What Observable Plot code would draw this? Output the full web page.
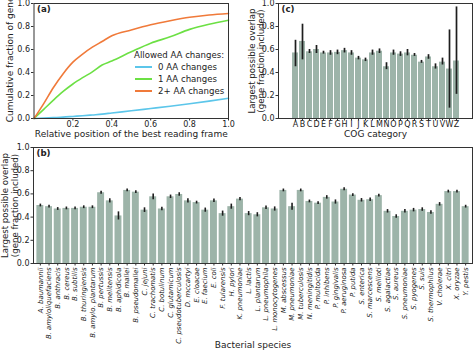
<!DOCTYPE html>
<html>
<head>
<meta charset="utf-8">
<script src="https://cdn.jsdelivr.net/npm/d3@7"></script>
<script src="https://cdn.jsdelivr.net/npm/@observablehq/plot@0.6"></script>
<style>
  html, body { margin: 0; padding: 0; background: #fff; }
  #wrap { position: relative; width: 474px; height: 351px; overflow: hidden; font-family: "DejaVu Sans", sans-serif; }
  #wrap > svg, #wrap > div.p { position: absolute; }
  .legend { position: absolute; font-size: 8.6px; color: #222; line-height: 1; }
  .legend .row { display: flex; align-items: center; height: 12px; }
  .legend .sw { width: 17px; height: 1.6px; margin-right: 6px; margin-left: 1px; }
</style>
</head>
<body>
<div id="wrap"></div>
<script>
// ---------- Panel (a) data ----------
const posX = [0, 0.05, 0.1, 0.15, 0.2, 0.25, 0.3, 0.35, 0.4, 0.5, 0.6, 0.7, 0.8, 0.9, 1.0];
const aa0 = [0, 0.004, 0.008, 0.012, 0.018, 0.024, 0.031, 0.038, 0.048, 0.067, 0.087, 0.107, 0.128, 0.151, 0.176];
const aa1 = [0, 0.08, 0.16, 0.235, 0.30, 0.355, 0.405, 0.465, 0.50, 0.58, 0.655, 0.71, 0.775, 0.82, 0.855];
const aa2 = [0, 0.13, 0.27, 0.39, 0.49, 0.56, 0.62, 0.67, 0.72, 0.77, 0.815, 0.85, 0.88, 0.90, 0.913];
const seriesNames = ["0 AA changes", "1 AA changes", "2+ AA changes"];
const seriesColors = ["#5cc6ea", "#6ce044", "#f07a3a"];

// ---------- Panel (c) data ----------
const cogCats = ["A","B","C","D","E","F","G","H","I","J","K","L","M","N","O","P","Q","R","S","T","U","V","W","Z"];
const cogMean = [0.57,0.67,0.58,0.60,0.57,0.57,0.575,0.59,0.57,0.525,0.51,0.57,0.585,0.45,0.57,0.56,0.57,0.55,0.49,0.535,0.45,0.49,0.43,0.50];
const cogLo   = [0.45,0.51,0.565,0.565,0.56,0.55,0.555,0.57,0.55,0.51,0.495,0.55,0.565,0.425,0.55,0.54,0.545,0.54,0.48,0.515,0.43,0.465,0.09,0.21];
const cogHi   = [0.68,0.82,0.60,0.635,0.585,0.59,0.595,0.61,0.59,0.54,0.525,0.595,0.605,0.485,0.595,0.58,0.60,0.565,0.505,0.555,0.475,0.525,0.77,0.97];

// ---------- Panel (b) data ----------
const species = ["A. baumannii","B. amyloliquefaciens","B. anthracis","B. cereus","B. subtilis","B. thuringiensis","B. amylo. plantarum","B. pertussis","B. melitensis","B. aphidicola","B. mallei","B. pseudomallei","C. jejuni","C. trachomatis","C. botulinum","C. glutamicum","C. pseudotuberculosis","D. mccartyi","E. cloacae","E. faecium","E. coli","F. tularensis","H. pylori","K. pneumoniae","L. lactis","L. plantarum","L. pneumophila","L. monocytogenes","M. abscessus","M. pneumoniae","M. tuberculosis","N. meningitidis","P. multocida","P. inhibens","P. gingivalis","P. aeruginosa","P. putida","S. enterica","S. marcescens","S. meliloti","S. agalactiae","S. aureus","S. pneumoniae","S. pyogenes","S. suis","S. thermophilus","V. cholerae","X. citri","X. oryzae","Y. pestis"];
const spMean = [0.50,0.49,0.47,0.475,0.475,0.485,0.485,0.61,0.54,0.41,0.63,0.615,0.46,0.575,0.47,0.575,0.595,0.54,0.525,0.46,0.54,0.43,0.49,0.555,0.43,0.42,0.48,0.47,0.63,0.49,0.63,0.535,0.52,0.57,0.53,0.64,0.59,0.545,0.55,0.585,0.45,0.405,0.45,0.46,0.465,0.44,0.51,0.62,0.62,0.49];
const spErr  = [0.012,0.012,0.012,0.012,0.012,0.012,0.012,0.012,0.018,0.035,0.012,0.012,0.02,0.025,0.015,0.015,0.015,0.018,0.012,0.018,0.015,0.022,0.022,0.015,0.018,0.018,0.015,0.018,0.012,0.03,0.012,0.012,0.012,0.015,0.018,0.012,0.012,0.015,0.015,0.012,0.015,0.015,0.015,0.015,0.015,0.015,0.015,0.012,0.012,0.012];

const yTicks = [0, 0.2, 0.4, 0.6, 0.8, 1.0];
const fmt = d3.format(".1f");
const barColor = "#9db4a9";
const errColor = "#1e1e1e";
const axisColor = "#333";
const font = "DejaVu Sans";

const wrap = document.getElementById("wrap");

// ---------- Panel (a) ----------
const curves = [];
[aa0, aa1, aa2].forEach((arr, s) => arr.forEach((v, i) => curves.push({x: posX[i], y: v, s: seriesNames[s]})));

const pA = Plot.plot({
  width: 240, height: 140,
  marginLeft: 33.5, marginRight: 12, marginTop: 3, marginBottom: 22,
  style: {fontFamily: font, fontSize: "8px", color: "#222", background: "transparent", overflow: "visible"},
  x: {domain: [0, 1]},
  y: {domain: [0, 1]},
  color: {domain: seriesNames, range: seriesColors},
  marks: [
    Plot.line(curves, {x: "x", y: "y", z: "s", stroke: "s", strokeWidth: 1.6, curve: "monotone-x"}),
    Plot.frame({stroke: axisColor, strokeWidth: 1}),
    Plot.axisX({ticks: [0.2, 0.4, 0.6, 0.8, 1.0], tickFormat: fmt, tickSize: 2.5, tickPadding: 0.5, label: null, stroke: axisColor}),
    Plot.axisY({ticks: yTicks, tickFormat: fmt, tickSize: 2.5, tickPadding: 1.5, label: null, stroke: axisColor}),
    Plot.text(["Relative position of the best reading frame"], {frameAnchor: "bottom", dy: 16, lineAnchor: "middle", textAnchor: "middle", fontSize: 9, text: d => d}),
    Plot.text(["Cumulative fraction of genes"], {frameAnchor: "left", dx: -24, dy: -4, rotate: -90, lineAnchor: "middle", textAnchor: "middle", fontSize: 9, text: d => d}),
    Plot.text(["(a)"], {frameAnchor: "top-left", dx: 3, dy: 6, lineAnchor: "middle", textAnchor: "start", fontWeight: "bold", fontSize: 8.6, text: d => d})
  ]
});
pA.style.left = "0px"; pA.style.top = "0px";
wrap.appendChild(pA);

// legend for (a)
const leg = document.createElement("div");
leg.className = "legend";
leg.style.left = "134px"; leg.style.top = "49px";
let html = `<div class="row" style="margin-bottom:0px">Allowed AA changes:</div>`;
seriesNames.forEach((n, i) => {
  html += `<div class="row"><span class="sw" style="background:${seriesColors[i]}"></span>${n}</div>`;
});
leg.innerHTML = html;
wrap.appendChild(leg);

// ---------- Panel (c) ----------
const cogData = cogCats.map((c, i) => ({c, m: cogMean[i], lo: cogLo[i], hi: cogHi[i]}));
const pC = Plot.plot({
  width: 239, height: 140,
  marginLeft: 43, marginRight: 2, marginTop: 3, marginBottom: 22,
  style: {fontFamily: font, fontSize: "8px", color: "#222", background: "transparent", overflow: "visible"},
  x: {domain: cogCats, paddingInner: 0.17, paddingOuter: 0.33},
  y: {domain: [0, 1]},
  marks: [
    Plot.barY(cogData, {x: "c", y: "m", fill: barColor}),
    Plot.ruleX(cogData, {x: "c", y1: "lo", y2: "hi", stroke: errColor, strokeWidth: 1.7}),
    Plot.frame({stroke: axisColor, strokeWidth: 1}),
    Plot.axisX({tickSize: 2.5, tickPadding: 0.5, label: null, stroke: axisColor}),
    Plot.axisY({ticks: yTicks, tickFormat: fmt, tickSize: 2.5, tickPadding: 1.5, label: null, stroke: axisColor}),
    Plot.text(["COG category"], {frameAnchor: "bottom", dy: 16, lineAnchor: "middle", textAnchor: "middle", fontSize: 9, text: d => d}),
    Plot.text(["Largest possible overlap\n(gene fraction included)"], {frameAnchor: "left", dx: -22, rotate: -90, lineAnchor: "middle", textAnchor: "middle", lineHeight: 1.12, fontSize: 8.6, text: d => d}),
    Plot.text(["(c)"], {frameAnchor: "top-left", dx: 3, dy: 6, lineAnchor: "middle", textAnchor: "start", fontWeight: "bold", fontSize: 8.6, text: d => d})
  ]
});
pC.style.left = "235px"; pC.style.top = "0px";
wrap.appendChild(pC);

// ---------- Panel (b) ----------
const spData = species.map((s, i) => ({s, m: spMean[i], lo: spMean[i] - spErr[i], hi: spMean[i] + spErr[i]}));
const pB = Plot.plot({
  width: 474, height: 211,
  marginLeft: 33, marginRight: 2, marginTop: 7, marginBottom: 88,
  style: {fontFamily: font, fontSize: "8px", color: "#222", background: "transparent", overflow: "visible"},
  x: {domain: species, paddingInner: 0.2, paddingOuter: 0.39},
  y: {domain: [0, 1]},
  marks: [
    Plot.barY(spData, {x: "s", y: "m", fill: barColor}),
    Plot.ruleX(spData, {x: "s", y1: "lo", y2: "hi", stroke: errColor, strokeWidth: 1.6}),
    Plot.frame({stroke: axisColor, strokeWidth: 1}),
    Plot.axisX({tickSize: 2.5, tickPadding: 1.5, tickRotate: -90, fontSize: 6.9, fontStyle: "italic", label: null, stroke: axisColor}),
    Plot.axisY({ticks: yTicks, tickFormat: fmt, tickSize: 2.5, tickPadding: 1.5, label: null, stroke: axisColor}),
    Plot.text(["Bacterial species"], {frameAnchor: "bottom", dy: 82, lineAnchor: "middle", textAnchor: "middle", fontSize: 9, text: d => d}),
    Plot.text(["Largest possible overlap\n(gene fraction included)"], {frameAnchor: "left", dx: -23.5, rotate: -90, lineAnchor: "middle", textAnchor: "middle", lineHeight: 1.12, fontSize: 8.6, text: d => d}),
    Plot.text(["(b)"], {frameAnchor: "top-left", dx: 3, dy: 6, lineAnchor: "middle", textAnchor: "start", fontWeight: "bold", fontSize: 8.6, text: d => d})
  ]
});
pB.style.left = "0px"; pB.style.top = "140px";
wrap.appendChild(pB);
</script>
</body>
</html>
